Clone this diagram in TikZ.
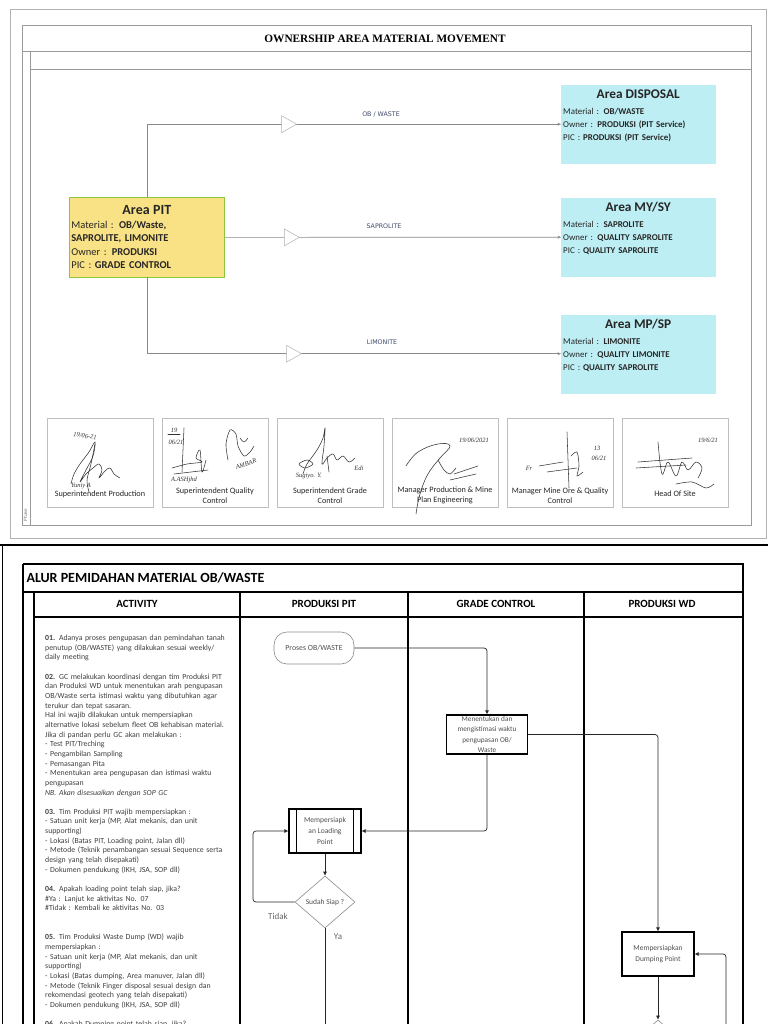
\documentclass[tikz,border=0pt]{standalone}
\usepackage{fontspec}
\setmainfont{Carlito}
\newfontfamily\serifT{Liberation Serif}
\newfontfamily\comicf{DejaVu Sans}
\usetikzlibrary{arrows.meta,shapes.geometric,calc,decorations.markings}
\definecolor{pityellow}{HTML}{F9E285}
\definecolor{pitgreen}{HTML}{8CC63F}
\definecolor{areacyan}{HTML}{BDEEF4}
\definecolor{lblblue}{HTML}{3D4A6B}
\definecolor{gline}{HTML}{8A8A8A}
\definecolor{frameg}{HTML}{9A9A9A}
\definecolor{flowtxt}{HTML}{505050}
\begin{document}
\begin{tikzpicture}[x=1pt,y=-1pt,
 frameone/.style={draw=black!30,line width=0.6pt},
 frametwo/.style={draw=frameg,line width=0.8pt},
 conn/.style={draw=gline,line width=0.7pt,-{Stealth[length=3.5pt,width=3pt]}},
 trimark/.style={postaction={decorate,decoration={markings,mark=at position #1 with {\draw[draw=black!30,fill=white,line width=0.5pt] (-15,-8.5) -- (0,0) -- (-15,8.5) -- cycle;}}}},
 pitbox/.style={draw=pitgreen,fill=pityellow,line width=0.8pt,text width=151pt,align=left,inner xsep=2pt,inner ysep=2pt,minimum height=79pt,font=\fontsize{10.5}{13.5}\selectfont,anchor=north west,text=black!85},
 areabox/.style={fill=areacyan,draw=areacyan,text width=150pt,align=left,inner xsep=2pt,inner ysep=2pt,minimum height=78pt,font=\fontsize{8.9}{13}\selectfont,anchor=north west,text=black!85},
 lbl/.style={font=\comicf\fontsize{6.3}{7}\selectfont,text=lblblue},
 sigbox/.style={draw=black!25,line width=0.6pt,minimum width=106pt,minimum height=89pt,anchor=north west,inner sep=0pt},
 siglbl/.style={font=\fontsize{8.2}{10.5}\selectfont,align=center,text=black!85},
 sig/.style={draw=black!80,line width=0.55pt,line cap=round,line join=round},
 sigtxt/.style={font=\serifT\itshape\fontsize{6.5}{6.5}\selectfont,text=black!80},
 lane/.style={draw=black,line width=1.1pt},
 hdr/.style={font=\bfseries\fontsize{11}{13}\selectfont},
 acttxt/.style={anchor=north west,text width=215pt,align=left,inner sep=0pt,font=\fontsize{7.8}{9.65}\selectfont,text=black!75},
 term/.style={draw=black!45,rounded corners=13pt,minimum width=80pt,minimum height=32pt,font=\fontsize{7.8}{9}\selectfont,text=flowtxt,line width=0.6pt},
 procbox/.style={draw=black,line width=1.2pt,minimum width=72pt,minimum height=44pt,inner sep=0pt},
 ftxt/.style={font=\fontsize{7.5}{10.8}\selectfont,text=flowtxt,align=center},
 decis/.style={diamond,draw=black!45,line width=0.6pt,minimum width=60pt,minimum height=52pt,inner sep=0pt,font=\fontsize{7.5}{9}\selectfont,text=flowtxt},
 flow/.style={draw=black!85,line width=0.7pt,rounded corners=3pt,-{Latex[length=4pt,width=4pt]}},
 flowline/.style={draw=black!85,line width=0.7pt},
 hand/.style={font=\fontsize{9}{9}\selectfont,text=black!60}
]
\useasboundingbox (0,0) rectangle (768,1024);
\clip (0,0) rectangle (768,1024);
\fill[white] (0,0) rectangle (768,1024);

% ===== page 1 =====
\draw[frameone] (10,9) rectangle (766,538);
\draw[frametwo] (22,25) rectangle (751,525);
\draw[frametwo] (22,51) -- (751,51);
\draw[frametwo] (30.5,51) -- (30.5,525);
\draw[frametwo] (30.5,69) -- (751,69);
\node[font=\serifT\bfseries\fontsize{11.3}{12}\selectfont] (title1) at (385,39) {OWNERSHIP AREA MATERIAL MOVEMENT};
\node[rotate=90,font=\fontsize{5}{5}\selectfont,text=black!55] (phase) at (25.5,515) {Phase};

\node[pitbox] (pit) at (69,197.5) {\makebox[151pt]{\bfseries\fontsize{14}{15}\selectfont Area PIT}\\[0pt]
Material : \textbf{OB/Waste,}\\ \textbf{SAPROLITE, LIMONITE}\\ Owner : \textbf{PRODUKSI}\\ PIC : \textbf{GRADE CONTROL}};

\node[areabox] (disp) at (561,85) {\makebox[150pt]{\bfseries\fontsize{13.3}{14}\selectfont Area DISPOSAL}\\[3pt]
Material : \textbf{OB/WASTE}\\ Owner : \textbf{PRODUKSI (PIT Service)}\\ PIC : \textbf{PRODUKSI (PIT Service)}\\[5pt]\mbox{}};
\node[areabox] (mysy) at (561,198) {\makebox[150pt]{\bfseries\fontsize{13.3}{14}\selectfont Area MY/SY}\\[3pt]
Material : \textbf{SAPROLITE}\\ Owner : \textbf{QUALITY SAPROLITE}\\ PIC : \textbf{QUALITY SAPROLITE}\\[5pt]\mbox{}};
\node[areabox] (mpsp) at (561,314.5) {\makebox[150pt]{\bfseries\fontsize{13.3}{14}\selectfont Area MP/SP}\\[3pt]
Material : \textbf{LIMONITE}\\ Owner : \textbf{QUALITY LIMONITE}\\ PIC : \textbf{QUALITY SAPROLITE}\\[5pt]\mbox{}};

\draw[conn,trimark=223pt] (pit.north) |- (disp.west);
\draw[conn,trimark=74.5pt] (pit.east) -- (mysy.west);
\draw[conn,trimark=231pt] (pit.south) |- (mpsp.west);

\node[lbl] (lob) at (381,114) {OB / WASTE};
\node[lbl] (lsap) at (384,226) {SAPROLITE};
\node[lbl] (llim) at (382,342) {LIMONITE};

% signature boxes
\node[sigbox] (s1) at (47,418) {};
\node[sigbox] (s2) at (162,418) {};
\node[sigbox] (s3) at (277,418) {};
\node[sigbox] (s4) at (392,418) {};
\node[sigbox] (s5) at (507,418) {};
\node[sigbox] (s6) at (622,418) {};
\node[siglbl] (l1) at (100,494) {Superintendent Production};
\node[siglbl] (l2) at (215,495.5) {Superintendent Quality\\Control};
\node[siglbl] (l3) at (330,495.5) {Superintendent Grade\\Control};
\node[siglbl] (l4) at (445,495.5) {Manager Production \& Mine\\Plan Engineering};
\node[siglbl] (l5) at (560,495.5) {Manager Mine Ore \& Quality\\Control};
\node[siglbl] (l6) at (675,494) {Head Of Site};

% signatures (scribbles)
\begin{scope}[shift={(47,418)}]
 \node[sigtxt,rotate=-8] (d1) at (38,18) {19/06-21};
 \draw[sig] plot[smooth,tension=0.6] coordinates {(24,66) (27,56) (33,46) (42,34) (48,24) (46,38) (39,52) (33,64) (39,56) (46,50) (52,46) (55,52) (52,60) (58,53) (63,50) (67,56) (73,60)};
 \draw[sig] plot[smooth] coordinates {(48,26) (44,46) (40,62) (42,74)};
 \node[sigtxt] (n1) at (34,68) {Yuniy A};
\end{scope}
\begin{scope}[shift={(162,418)}]
 \node[sigtxt] (d2a) at (12,12) {19};
 \draw[sig] (6,16) -- (18,16);
 \node[sigtxt] (d2b) at (14,24) {06/21};
 \draw[sig] (22,10) -- (20,54);
 \draw[sig] plot[smooth] coordinates {(10,50) (25,46) (40,44) (34,40) (38,32) (40,54) (44,42)};
 \draw[sig] (12,56) -- (46,52);
 \draw[sig] plot[smooth] coordinates {(66,42) (64,26) (68,12) (74,16) (76,28) (82,38) (88,34) (92,28)};
 \draw[sig] plot[smooth] coordinates {(78,20) (82,24) (86,20)};
 \node[sigtxt] (n2a) at (22,62) {A.ASHjhd};
 \node[sigtxt,rotate=20] (n2b) at (84,46) {AMBAR};
\end{scope}
\begin{scope}[shift={(277,418)}]
 \draw[sig] plot[smooth,tension=0.6] coordinates {(26,56) (30,46) (40,32) (46,20) (48,10) (47,28) (45,46) (50,40) (56,36) (60,42) (66,38) (72,44) (78,40)};
 \draw[sig] plot[smooth cycle] coordinates {(22,46) (30,42) (36,46) (28,50)};
 \draw[sig] (50,38) -- (52,54);
 \node[sigtxt] (n3a) at (32,58) {Sugiyo. Y.};
 \node[sigtxt] (n3b) at (82,50) {Edi};
\end{scope}
\begin{scope}[shift={(392,418)}]
 \draw[sig] plot[smooth,tension=0.7] coordinates {(14,48) (26,34) (46,26) (58,28) (48,40) (36,56) (28,76) (24,96)};
 \draw[sig] plot[smooth] coordinates {(46,42) (52,52) (58,56) (64,50)};
 \draw[sig] (62,56) -- (86,48);
 \draw[sig] (58,62) -- (84,56);
 \node[sigtxt] (d4) at (82,22) {19/06/2021};
\end{scope}
\begin{scope}[shift={(507,418)}]
 \node[sigtxt] (n5) at (22,50) {Fr};
 \draw[sig] (32,48) -- (56,44);
 \draw[sig] (40,54) -- (70,50);
 \draw[sig] (60,14) -- (62,70);
 \draw[sig] plot[smooth] coordinates {(64,38) (70,34) (72,48) (70,58) (76,54)};
 \node[sigtxt] (d5a) at (90,30) {13};
 \node[sigtxt] (d5b) at (92,40) {06/21};
\end{scope}
\begin{scope}[shift={(622,418)}]
 \node[sigtxt] (d6) at (86,22) {19/6/21};
 \draw[sig] (16,44) -- (70,40);
 \draw[sig] (14,50) -- (64,47);
 \draw[sig] plot[smooth,tension=0.6] coordinates {(36,24) (40,56) (46,44) (54,58) (60,44) (66,52) (74,44) (80,50) (76,60)};
 \draw[sig] plot[smooth] coordinates {(54,66) (70,64) (84,70) (92,66)};
\end{scope}

% ===== page 2 =====
\draw[line width=1.6pt] (0,545) -- (768,545);
\draw[line width=1.6pt] (2.5,545) -- (2.5,1030);
\draw[lane] (23,564) -- (743,564) -- (743,1030);
\draw[lane] (23,564) -- (23,1030);
\draw[lane] (23,592) -- (743,592);
\draw[lane] (34,592) -- (34,1030);
\draw[lane] (240,592) -- (240,1030);
\draw[lane] (408,592) -- (408,1030);
\draw[lane] (584,592) -- (584,1030);
\draw[lane] (34,617) -- (743,617);
\node[anchor=west,font=\bfseries\fontsize{14}{16}\selectfont] (title2) at (23,577.5) {ALUR PEMIDAHAN MATERIAL OB/WASTE};
\node[hdr] (h1) at (137,604) {ACTIVITY};
\node[hdr] (h2) at (324,604) {PRODUKSI PIT};
\node[hdr] (h3) at (496,604) {GRADE CONTROL};
\node[hdr] (h4) at (662,604) {PRODUKSI WD};

\node[acttxt] (act) at (45,635) {\textbf{01.} Adanya proses pengupasan dan pemindahan tanah\\
penutup (OB/WASTE) yang dilakukan sesuai weekly/\\
daily meeting\\
~\\
\textbf{02.} GC melakukan koordinasi dengan tim Produksi PIT\\
dan Produksi WD untuk menentukan arah pengupasan\\
OB/Waste serta istimasi waktu yang dibutuhkan agar\\
terukur dan tepat sasaran.\\
Hal ini wajib dilakukan untuk mempersiapkan\\
alternative lokasi sebelum fleet OB kehabisan material.\\
Jika di pandan perlu GC akan melakukan :\\
- Test PIT/Treching\\
- Pengambilan Sampling\\
- Pemasangan Pita\\
- Menentukan area pengupasan dan istimasi waktu\\
pengupasan\\
\textit{NB. Akan disesuaikan dengan SOP GC}\\
~\\
\textbf{03.} Tim Produksi PIT wajib mempersiapkan :\\
- Satuan unit kerja (MP, Alat mekanis, dan unit\\
supporting)\\
- Lokasi (Batas PIT, Loading point, Jalan dll)\\
- Metode (Teknik penambangan sesuai Sequence serta\\
design yang telah disepakati)\\
- Dokumen pendukung (IKH, JSA, SOP dll)\\
~\\
\textbf{04.} Apakah loading point telah siap, jika?\\
\#Ya : Lanjut ke aktivitas No. 07\\
\#Tidak : Kembali ke aktivitas No. 03\\
~\\
~\\
\textbf{05.} Tim Produksi Waste Dump (WD) wajib\\
mempersiapkan :\\
- Satuan unit kerja (MP, Alat mekanis, dan unit\\
supporting)\\
- Lokasi (Batas dumping, Area manuver, Jalan dll)\\
- Metode (Teknik Finger disposal sesuai design dan\\
rekomendasi geotech yang telah disepakati)\\
- Dokumen pendukung (IKH, JSA, SOP dll)\\
~\\
\textbf{06.} Apakah Dumping point telah siap, jika?};

% flowchart
\node[term] (term) at (314,648) {Proses OB/WASTE};
\node[procbox,ftxt,font=\fontsize{7.3}{10.3}\selectfont,minimum width=81pt,minimum height=39pt] (gc) at (487,734.5) {Menentukan dan\\mengistimasi waktu\\pengupasan OB/\\Waste};
\node[procbox,ftxt] (load) at (325,831) {Mempersiapk\\an Loading\\Point};
\draw[line width=1.2pt] ($(load.north west)+(8,0)$) -- ($(load.south west)+(8,0)$);
\draw[line width=1.2pt] ($(load.north east)+(-8,0)$) -- ($(load.south east)+(-8,0)$);
\node[decis] (dia1) at (325,902) {Sudah Siap ?};
\node[procbox,ftxt] (dump) at (658,954) {Mempersiapkan\\Dumping Point};
\node[decis] (dia2) at (658,1046) {};

\draw[flow] (term) -| (gc);
\draw[flow] (gc) -| (dump);
\draw[flow] (gc) |- (load);
\draw[flow] (load) -- (dia1);
\coordinate (tbend) at (253,902);
\draw[flow] (dia1.west) -- (tbend) |- (load.west);
\coordinate (yaend) at (325,1040);
\draw[flowline] (dia1.south) -- (yaend);
\draw[flow] (dump) -- (dia2);
\coordinate (retend) at (726,1040);
\draw[flow] (retend) |- (dump.east);

\node[hand] (tidak) at (278,916) {Tidak};
\node[hand] (ya) at (338,937) {Ya};
\end{tikzpicture}
\end{document}
